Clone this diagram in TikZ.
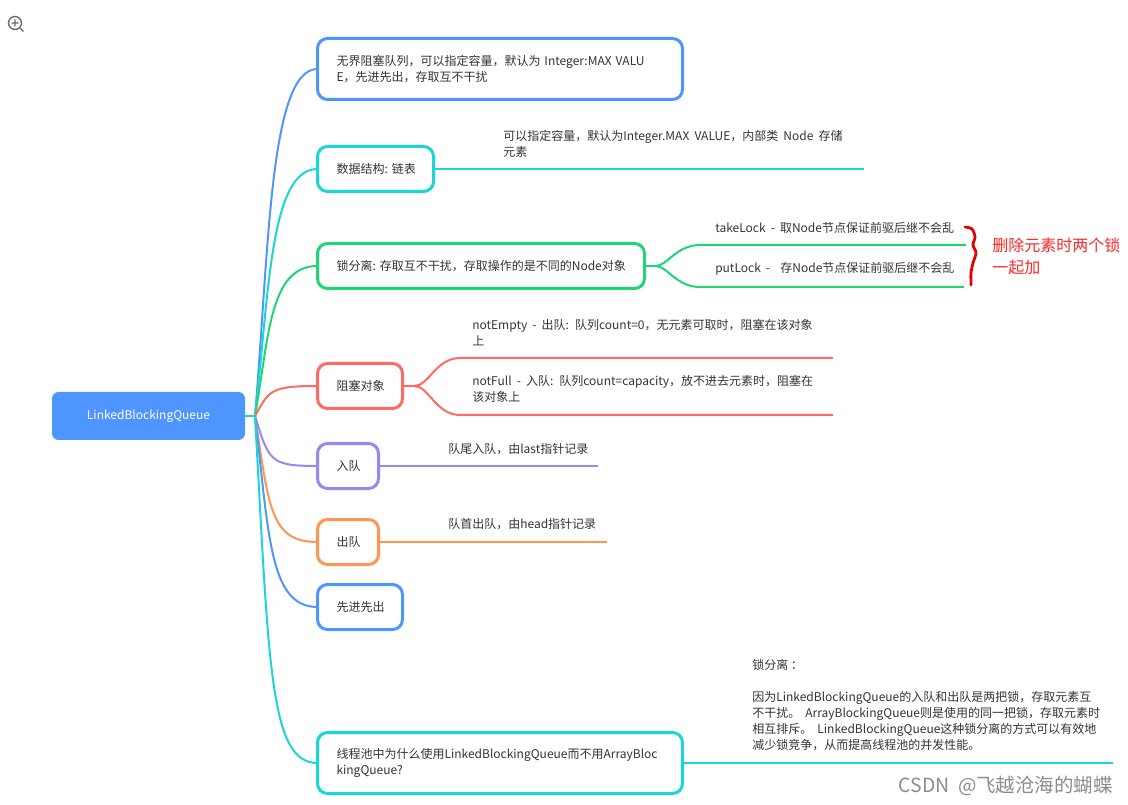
\documentclass[tikz,border=0pt]{standalone}
\usepackage{fontspec}
\setmainfont[WordSpace=1.9]{Noto Sans CJK SC}
\usetikzlibrary{calc}
\definecolor{mapblue}{HTML}{4F95FF}
\definecolor{mapcyan}{HTML}{1BD6D6}
\definecolor{mapgreen}{HTML}{1FD676}
\definecolor{mapred}{HTML}{FF6B62}
\definecolor{mappurple}{HTML}{9B86F5}
\definecolor{maporange}{HTML}{FF9550}
\definecolor{maptext}{HTML}{333333}
\tikzset{
  topic/.style n args={3}{draw=#1,line width=2.25pt,rounded corners=7.5pt,fill=white,text=maptext,
    font=\fontsize{9}{12}\selectfont,align=left,inner xsep=14.25pt,inner ysep=0pt,outer sep=0pt,
    text width={(#2-38)*0.75pt},minimum height=#3*0.75pt},
  note/.style={anchor=west,inner sep=0pt,text=maptext,font=\fontsize{9}{12}\selectfont,align=left},
  branch/.style={line width=1.5pt,#1}
}
\begin{document}
\begin{tikzpicture}[x=0.75pt,y=-0.75pt]
\useasboundingbox (0,0) rectangle (1128,805);
% zoom icon
\draw[black!60,line width=1pt] (15,23) circle (6.5);
\draw[black!60,line width=1pt] (11.5,23)--(18.5,23) (15,19.5)--(15,26.5) (20,28)--(23.5,31.5);
% root and topics
\node[fill=mapblue,rounded corners=5pt,text=white,font=\fontsize{9}{12}\selectfont,minimum width=144.75pt,minimum height=36pt,inner sep=0pt,outer sep=0pt] (root) at (148.5,416) {LinkedBlockingQueue};
\coordinate (hub) at (255,416);
\node[topic={mapblue}{365}{61}] (heap) at (500,69) {无界阻塞队列，可以指定容量，默认为 Integer:MAX VALU\\E，先进先出，存取互不干扰};
\node[topic={mapcyan}{116}{45}] (list) at (375.5,169) {数据结构:~链表};
\node[topic={mapgreen}{327}{45}] (lock) at (481,266) {锁分离:~存取互不干扰，存取操作的是不同的Node对象};
\node[topic={mapred}{85}{45}] (block) at (360,386) {阻塞对象};
\node[topic={mappurple}{61}{45}] (enq) at (348,466) {入队};
\node[topic={maporange}{61}{45}] (deq) at (348,542) {出队};
\node[topic={mapblue}{85}{45}] (fifo) at (360,607) {先进先出};
\node[topic={mapcyan}{365}{61}] (why) at (500,763) {线程池中为什么使用LinkedBlockingQueue而不用ArrayBloc\\kingQueue?};
% curves from the root
\foreach \p/\c/\a/\b in {heap/mapblue/14/-166,list/mapcyan/14/-120,lock/mapgreen/14/-80,block/mapred/14/-25,enq/mappurple/14/45,deq/maporange/14/90,fifo/mapblue/14/120,why/mapcyan/14/250}{
  \draw[branch=\c] (hub) .. controls +(\a,\b) and +(-48,0) .. (\p.west);}
\draw[branch=mapcyan] (root.east)--(hub);
% end points of the lines
\coordinate (listend) at (864,169);
\coordinate (takeend) at (966,245);
\coordinate (putend) at (964,287);
\coordinate (emptyend) at (833,358);
\coordinate (fullend) at (833,415);
\coordinate (enqend) at (598,466);
\coordinate (deqend) at (607,542);
\coordinate (whyend) at (1113,763);
\draw[branch=mapcyan] (list.east)--(listend);
\draw[branch=mappurple] (enq.east)--(enqend);
\draw[branch=maporange] (deq.east)--(deqend);
\draw[branch=mapcyan] (why.east)--(whyend);
\draw[branch=mapgreen] (lock.east)--++(11,0) coordinate (lockfork);
\draw[branch=mapgreen] (lockfork) .. controls +(12,0) and +(-24,0) .. (700,245)--(takeend);
\draw[branch=mapgreen] (lockfork) .. controls +(12,0) and +(-24,0) .. (700,287)--(putend);
\draw[branch=mapred] (block.east)--++(12,0) coordinate (blockfork);
\draw[branch=mapred] (blockfork) .. controls +(14,0) and +(-24,0) .. (460,358)--(emptyend);
\draw[branch=mapred] (blockfork) .. controls +(14,0) and +(-24,0) .. (460,415)--(fullend);
% notes
\node[note] (listnote) at (503,143.5) {可以指定容量，默认为Integer.MAX VALUE，内部类 Node 存储\\元素};
\node[note] (takenote) at (715,228) {takeLock - 取Node节点保证前驱后继不会乱};
\node[note] (putnote) at (715,269) {putLock -\ \ 存Node节点保证前驱后继不会乱};
\node[note] (emptynote) at (472,333) {notEmpty - 出队: 队列count=0，无元素可取时，阻塞在该对象\\上};
\node[note] (fullnote) at (472,389) {notFull - 入队: 队列count=capacity，放不进去元素时，阻塞在\\该对象上};
\node[note] (enqnote) at (448,449) {队尾入队，由last指针记录};
\node[note] (deqnote) at (448,524) {队首出队，由head指针记录};
\node[note] (whynote) at (752,705) {锁分离\hspace{2pt}：\\[12pt]因为LinkedBlockingQueue的入队和出队是两把锁，存取元素互\\不干扰。 ArrayBlockingQueue则是使用的同一把锁，存取元素时\\相互排斥。 LinkedBlockingQueue这种锁分离的方式可以有效地\\减少锁竞争，从而提高线程池的并发性能。};
% red remark
\draw[red!90!black,line width=2.1pt,line cap=round] plot[smooth] coordinates {(965,227) (972,229) (975,237) (973,245) (976,253) (973,263) (971,273) (971,285)};
\node[anchor=west,inner sep=0pt,text=red!85!white,font=\fontsize{12}{16.5}\selectfont,align=left] (remark) at (992,256) {删除元素时两个锁\\一起加};
% watermark
\node[anchor=east,inner sep=0pt,text=black!45,font=\fontsize{14.6}{16}\selectfont] (mark) at (1113,786) {CSDN @飞越沧海的蝴蝶};
\end{tikzpicture}
\end{document}
